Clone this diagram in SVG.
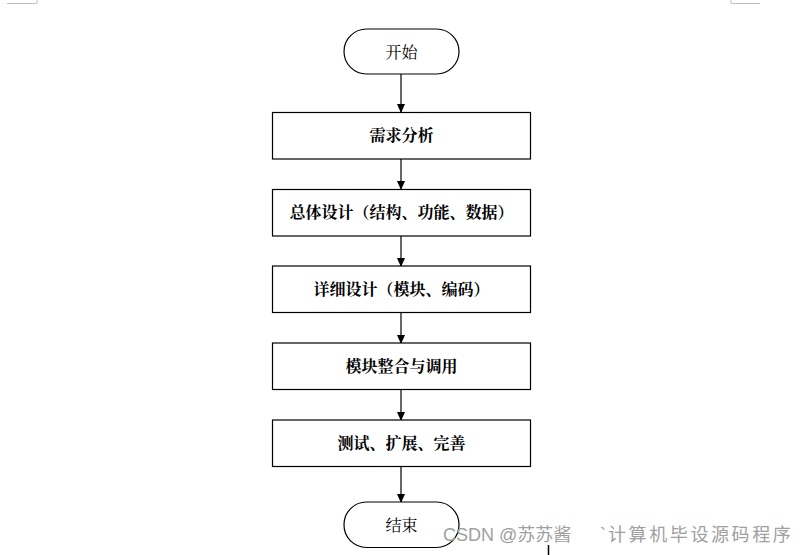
<svg xmlns="http://www.w3.org/2000/svg" width="801" height="555" viewBox="0 0 801 555">
<defs>
<marker id="ah" markerWidth="10" markerHeight="10" refX="8" refY="5" orient="auto" markerUnits="userSpaceOnUse">
<path d="M0,1 L9,5 L0,9 Z" fill="#000"/>
</marker>
<style>
.box{fill:#fff;stroke:#000;stroke-width:1.2}
.lbl{font-family:"Noto Serif CJK SC","Noto Sans CJK SC",serif;font-size:16px;font-weight:bold;text-anchor:middle;fill:#000}
.term{font-family:"Noto Serif CJK SC","Noto Sans CJK SC",serif;font-size:16px;text-anchor:middle;fill:#000}
.conn{stroke:#000;stroke-width:1.2;fill:none;marker-end:url(#ah)}
.mark{stroke:#c0c0c0;stroke-width:1;fill:none}
.wm{font-family:"Liberation Sans","Noto Sans CJK SC",sans-serif;font-size:18px;fill:#a0a0a0}
</style>
</defs>
<rect width="801" height="555" fill="#fff"/>
<path class="mark" d="M7,3.5 H37 V0"/>
<path class="mark" d="M731,0 V3.5 H760"/>
<g id="connectors">
<line class="conn" x1="401" y1="74" x2="401" y2="112"/>
<line class="conn" x1="401" y1="159" x2="401" y2="189"/>
<line class="conn" x1="401" y1="236" x2="401" y2="266"/>
<line class="conn" x1="401" y1="313" x2="401" y2="343"/>
<line class="conn" x1="401" y1="389" x2="401" y2="420"/>
<line class="conn" x1="401" y1="466" x2="401" y2="502"/>
</g>
<g id="start">
<rect class="box" x="344" y="29" width="115" height="45" rx="22.5" ry="22.5"/>
<text class="term" x="401.5" y="57.5">开始</text>
</g>
<g id="n1">
<rect class="box" x="272.5" y="112.5" width="258" height="46.5"/>
<text class="lbl" x="401.5" y="141">需求分析</text>
</g>
<g id="n2">
<rect class="box" x="272.5" y="189.5" width="258" height="46.5"/>
<text class="lbl" x="401.5" y="218">总体设计（结构、功能、数据）</text>
</g>
<g id="n3">
<rect class="box" x="272.5" y="266" width="258" height="46.5"/>
<text class="lbl" x="401.5" y="295">详细设计（模块、编码）</text>
</g>
<g id="n4">
<rect class="box" x="272.5" y="343" width="258" height="46.5"/>
<text class="lbl" x="401.5" y="372">模块整合与调用</text>
</g>
<g id="n5">
<rect class="box" x="272.5" y="420" width="258" height="46.5"/>
<text class="lbl" x="401.5" y="449">测试、扩展、完善</text>
</g>
<g id="end">
<rect class="box" x="344" y="502" width="115" height="45.5" rx="22.5" ry="22.5"/>
<text class="term" x="401.5" y="530.5">结束</text>
</g>
<text class="wm" x="443" y="541">CSDN @苏苏酱</text>
<text class="wm" x="600" y="541">`</text>
<text class="wm" x="608" y="541" letter-spacing="2.6">计算机毕设源码程序</text>
<line x1="548.5" y1="545" x2="548.5" y2="555" stroke="#000" stroke-width="1.5"/>
</svg>
